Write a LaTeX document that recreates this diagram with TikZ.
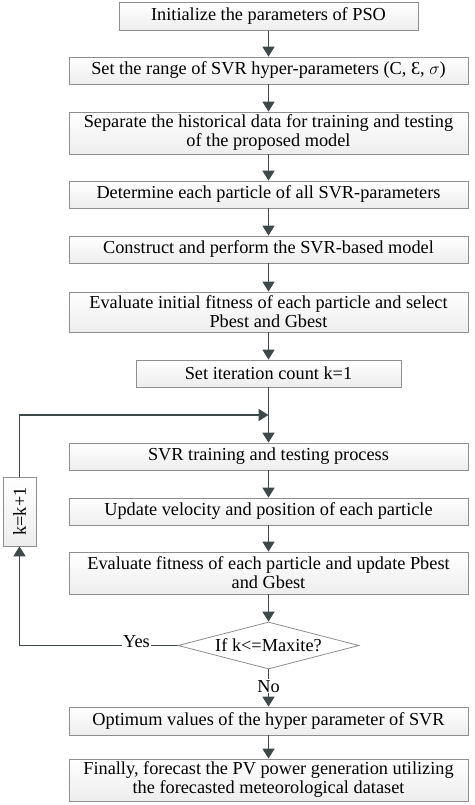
\documentclass[tikz,border=0pt]{standalone}
\usepackage{fontspec}
\setmainfont{Liberation Serif}
\usetikzlibrary{shapes.geometric,arrows.meta}
\definecolor{arr}{HTML}{3E4A4A}
\definecolor{bord}{HTML}{8E8E8E}
\begin{document}
\begin{tikzpicture}[x=1pt,y=1pt,
  box/.style={draw=bord, line width=0.8pt, top color=white, bottom color=black!7,
    minimum height=27pt, inner sep=1pt, align=center,
    font=\fontsize{18.3}{19}\selectfont},
  wide/.style={box, minimum width=399pt},
  conn/.style={draw=arr, line width=1.8pt, -{Triangle[width=12pt,length=10pt]}},
  lbl/.style={font=\fontsize{18.3}{19}\selectfont, inner sep=1pt}
]
\useasboundingbox (0,0) rectangle (474,-805);
\node[box, minimum width=299pt, minimum height=28pt] (b1) at (268.5,-16.5) {Initialize the parameters of PSO};
\node[wide] (b2) at (268.5,-70.5) {Set the range of SVR hyper-parameters (C, Ɛ, $\sigma$)};
\node[wide, minimum height=42pt] (b3) at (268.5,-133) {Separate the historical data for training and testing\\of the proposed model};
\node[wide] (b4) at (268.5,-194.5) {Determine each particle of all SVR-parameters};
\node[wide] (b5) at (268.5,-249.5) {Construct and perform the SVR-based model};
\node[wide, minimum height=40pt] (b6) at (268.5,-312) {Evaluate initial fitness of each particle and select\\Pbest and Gbest};
\node[box, minimum width=265pt] (b7) at (268.5,-373.5) {Set iteration count k=1};
\coordinate (j) at (268.5,-415);
\node[wide] (b8) at (268.5,-456.5) {SVR training and testing process};
\node[wide] (b9) at (268.5,-511.5) {Update velocity and position of each particle};
\node[wide, minimum height=42pt] (b10) at (268.5,-573) {Evaluate fitness of each particle and update Pbest\\and Gbest};
\node[diamond, draw=bord, line width=0.8pt, fill=white, inner sep=0pt, minimum width=181pt, minimum height=47pt] (d) at (268.5,-645.5) {};
\node[lbl] (dt) at (d) {If k<=Maxite?};
\node[wide, minimum height=28pt] (b11) at (268.5,-721) {Optimum values of the hyper parameter of SVR};
\node[wide, minimum height=42pt] (b12) at (268.5,-780) {Finally, forecast the PV power generation utilizing\\the forecasted meteorological dataset};
\node[box, minimum width=69pt, minimum height=33pt, rotate=90] (k) at (19.5,-511.5) {k=k+1};
\coordinate (yc) at (19.5,-645.5);
\coordinate (tc) at (19.5,-415);

\path[conn] (b1) -- (b2);
\path[conn] (b2) -- (b3);
\path[conn] (b3) -- (b4);
\path[conn] (b4) -- (b5);
\path[conn] (b5) -- (b6);
\path[conn] (b6) -- (b7);
\path[conn] (b7) -- (b8);
\path[conn] (b8) -- (b9);
\path[conn] (b9) -- (b10);
\path[conn] (b10) -- (d);
\path[conn] (d) -- node[lbl, fill=white, inner sep=1pt, pos=0.45] {No} (b11);
\path[conn] (b11) -- (b12);
\path[conn] (d.west) -- node[lbl, pos=0.26, fill=white, yshift=4pt] {Yes} (yc) -- (k.west);
\path[conn] (k.east) -- (tc) -- (j);
\end{tikzpicture}
\end{document}
